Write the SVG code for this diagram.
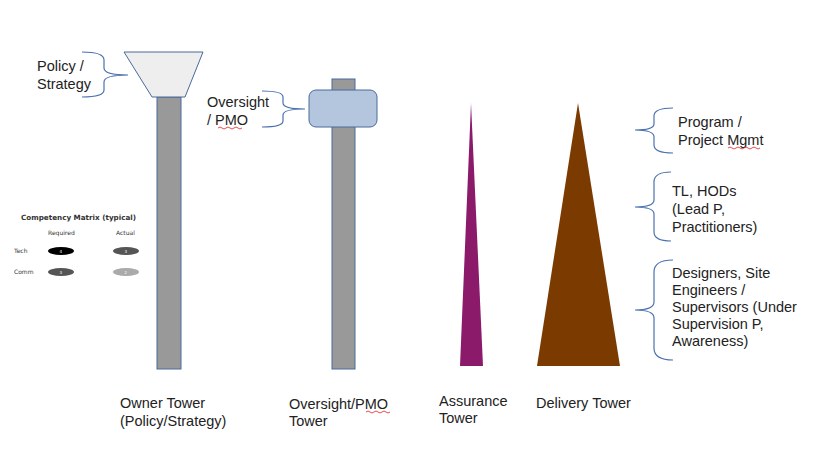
<svg xmlns="http://www.w3.org/2000/svg" width="818" height="454" viewBox="0 0 818 454">
<style>
text{font-family:"Liberation Sans",Arial,sans-serif;font-size:14.5px;fill:#222}
.col{fill:#999;stroke:#4a6a9a;stroke-width:1}
.br{fill:none;stroke:#4a72b0;stroke-width:1.2}
.sm{font-family:"DejaVu Sans",sans-serif;font-size:6px;fill:#333}
.sq{font-family:"DejaVu Sans",sans-serif;font-size:4px;fill:#fff}
.wav{fill:none;stroke:#d22;stroke-width:0.8}
</style>
<rect width="818" height="454" fill="#fff"/>
<g id="owner">
<rect class="col" x="157" y="97" width="24" height="272"/>
<polygon points="124,52 203,52 185,97 152,97" fill="#eeeeee" stroke="#4a6a9a"/>
</g>
<g id="oversight">
<rect class="col" x="332" y="79" width="23" height="290"/>
<rect x="309" y="90" width="68" height="37" rx="7" fill="#b3c6dd" stroke="#4a6a9a"/>
</g>
<g id="assurance"><polygon points="471,103 483,366 460,366" fill="#8b1a6b"/></g>
<g id="delivery"><polygon points="578,103 620,366 537,366" fill="#7b3a00"/></g>
<g id="connectors">
<path class="br" d="M82,52 Q104,52 104,60 L104,68 Q104,75 128,75 Q104,75 104,82 L104,90 Q104,97 82,97"/>
<path class="br" d="M262,91 Q283,91 283,97 L283,103 Q283,109 305,109 Q283,109 283,115 L283,121 Q283,127 262,127"/>
<path class="br" d="M673,108 Q654,108 654,116 L654,124 Q654,130 635,130 Q654,130 654,137 L654,145 Q654,153 673,153"/>
<path class="br" d="M671,172 Q654,172 654,182 L654,200 Q654,207 635,207 Q654,207 654,214 L654,232 Q654,241 671,241"/>
<path class="br" d="M673,260 Q654,260 654,272 L654,302 Q654,310 635,310 Q654,310 654,318 L654,348 Q654,360 673,360"/>
</g>
<g id="labels">
<text x="37" y="71">Policy /</text><text x="37" y="89">Strategy</text>
<text x="207" y="107">Oversight</text><text x="207" y="125">/ PMO</text>
<path class="wav" d="M218,128 q2,-2 4,0 t4,0 t4,0 t4,0 t4,0 t4,0"/>
<text x="678" y="127">Program /</text><text x="678" y="145">Project Mgmt</text>
<path class="wav" d="M728,148 q2,-2 4,0 t4,0 t4,0 t4,0 t4,0 t4,0 t4,0 t4,0"/>
<text x="672" y="196">TL, HODs</text><text x="672" y="214">(Lead P,</text><text x="672" y="232">Practitioners)</text>
<text x="672" y="278">Designers, Site</text><text x="672" y="295">Engineers /</text><text x="672" y="312">Supervisors (Under</text><text x="672" y="329">Supervision P,</text><text x="672" y="346">Awareness)</text>
<text x="120" y="408">Owner Tower</text><text x="120" y="426">(Policy/Strategy)</text>
<text x="289" y="409">Oversight/PMO</text><text x="289" y="426">Tower</text>
<path class="wav" d="M366,412 q2,-2 4,0 t4,0 t4,0 t4,0 t4,0 t4,0"/>
<text x="439" y="406">Assurance</text><text x="439" y="423">Tower</text>
<text x="536" y="408">Delivery Tower</text>
</g>
<g id="matrix">
<text class="sm" x="21" y="220" font-weight="bold" style="font-size:7.2px">Competency Matrix (typical)</text>
<text class="sm" x="48" y="235">Required</text><text class="sm" x="116" y="235">Actual</text>
<text class="sm" x="14" y="253">Tech</text><text class="sm" x="14" y="274">Comm</text>
<ellipse cx="61" cy="251" rx="13" ry="4" fill="#000"/><text class="sq" x="59.5" y="252.5">4</text>
<ellipse cx="126" cy="251" rx="13" ry="4" fill="#555"/><text class="sq" x="124.5" y="252.5">3</text>
<ellipse cx="61" cy="272" rx="13" ry="4" fill="#555"/><text class="sq" x="59.5" y="273.5">3</text>
<ellipse cx="126" cy="272" rx="13" ry="4" fill="#aaa"/><text class="sq" x="124.5" y="273.5">2</text>
</g>
</svg>
